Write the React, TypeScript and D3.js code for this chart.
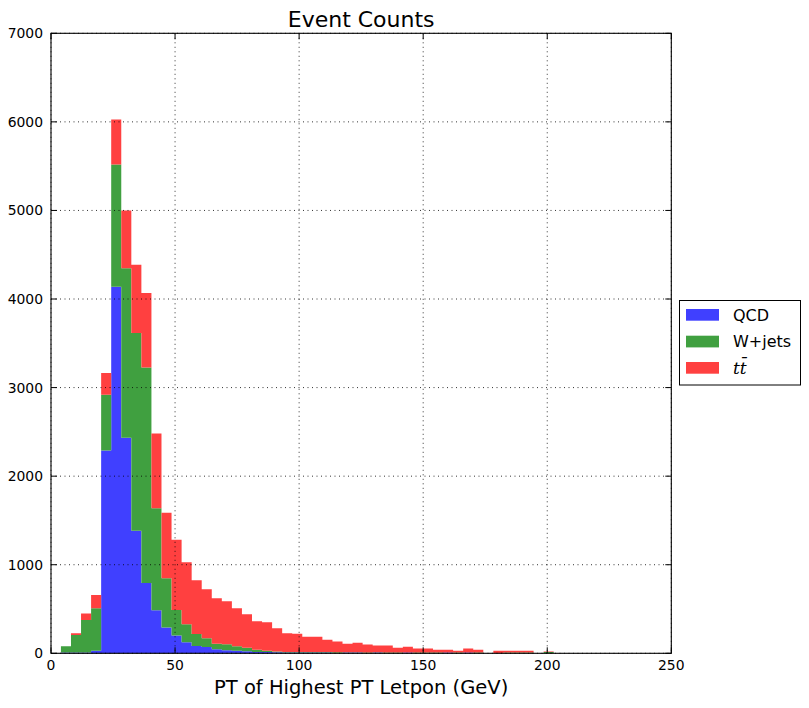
import React, { useEffect, useRef } from "react";
import * as d3 from "d3";

// histogram bins: first left edge and width (GeV)
const binStart = 4.0;
const binWidth = 4.053;

// counts per bin, stacked bottom to top
const qcd = [
  8, 8, 8, 30, 2289, 4138, 2434, 1385, 795, 485, 290, 200, 124, 83, 72, 45, 34,
  30, 23, 15, 15, 11, 8, 8, 8, 8, 8, 0, 8, 8, 0, 8, 0, 0, 8, 0, 0, 0, 8, 0, 8,
  0, 0, 0, 0, 0, 0, 0, 0,
];
const wjets = [
  72, 198, 367, 479, 630, 1381, 1914, 2232, 2431, 1152, 557, 290, 203, 135, 97,
  64, 68, 49, 41, 26, 15, 8, 7, 7, 7, 7, 7, 12, 4, 4, 8, 4, 8, 8, 0, 8, 8, 8, 0,
  8, 0, 8, 0, 0, 8, 8, 8, 0, 15,
];
const ttbar = [
  0, 19, 75, 149, 246, 508, 650, 771, 843, 844, 741, 792, 700, 606, 554, 512,
  485, 429, 376, 320, 320, 263, 211, 207, 173, 173, 139, 120, 97, 108, 90, 75,
  79, 56, 67, 45, 45, 33, 33, 22, 45, 33, 0, 30, 22, 22, 22, 0, 4,
];

const seriesKeys = ["qcd", "wjets", "ttbar"];
const seriesColors = ["#4040ff", "#40a040", "#ff4040"];
const legendLabels = ["QCD", "W+jets"];

const xTicks = [0, 50, 100, 150, 200, 250];
const yTicks = [0, 1000, 2000, 3000, 4000, 5000, 6000, 7000];

const font = "DejaVu Sans, sans-serif";

const drawChart = (el: SVGSVGElement) => {
  const svg = d3.select(el);
  svg.selectAll("*").remove();

  const left = 51;
  const right = 671.3;
  const top = 33.3;
  const bottom = 653.3;

  const x = d3.scaleLinear().domain([0, 250]).range([left, right]);
  const y = d3.scaleLinear().domain([0, 7000]).range([bottom, top]);

  // one row per bin left edge, plus a closing row at the last right edge
  const rows = qcd.map((q, i) => ({
    edge: binStart + i * binWidth,
    qcd: q,
    wjets: wjets[i],
    ttbar: ttbar[i],
  }));
  rows.push({ ...rows[rows.length - 1], edge: binStart + qcd.length * binWidth });

  const stacked = d3.stack().keys(seriesKeys)(rows as any);

  const area = d3
    .area<any>()
    .x((d) => x(d.data.edge))
    .y0((d) => y(d[0]))
    .y1((d) => y(d[1]))
    .curve(d3.curveStepAfter);

  svg
    .append("g")
    .selectAll("path")
    .data(stacked)
    .join("path")
    .attr("fill", (_, i) => seriesColors[i])
    .attr("d", area);

  // dotted grid on top of the bars
  const grid = svg
    .append("g")
    .attr("stroke", "#000")
    .attr("stroke-width", 0.8)
    .attr("stroke-dasharray", "1,3.5");
  grid
    .selectAll("line.gx")
    .data(xTicks)
    .join("line")
    .attr("x1", (d) => x(d))
    .attr("x2", (d) => x(d))
    .attr("y1", top)
    .attr("y2", bottom);
  grid
    .selectAll("line.gy")
    .data(yTicks)
    .join("line")
    .attr("class", "gy")
    .attr("x1", left)
    .attr("x2", right)
    .attr("y1", (d) => y(d))
    .attr("y2", (d) => y(d));

  // inward ticks on all four sides
  const tickLen = 6;
  const ticks = svg.append("g").attr("stroke", "#000").attr("stroke-width", 1);
  xTicks.forEach((t) => {
    ticks.append("line").attr("x1", x(t)).attr("x2", x(t)).attr("y1", bottom).attr("y2", bottom - tickLen);
    ticks.append("line").attr("x1", x(t)).attr("x2", x(t)).attr("y1", top).attr("y2", top + tickLen);
  });
  yTicks.forEach((t) => {
    ticks.append("line").attr("x1", left).attr("x2", left + tickLen).attr("y1", y(t)).attr("y2", y(t));
    ticks.append("line").attr("x1", right).attr("x2", right - tickLen).attr("y1", y(t)).attr("y2", y(t));
  });

  svg
    .append("rect")
    .attr("x", left)
    .attr("y", top)
    .attr("width", right - left)
    .attr("height", bottom - top)
    .attr("fill", "none")
    .attr("stroke", "#000")
    .attr("stroke-width", 1.1);

  // tick labels
  svg
    .append("g")
    .style("font-family", font)
    .style("font-size", "13.9px")
    .attr("text-anchor", "middle")
    .selectAll("text")
    .data(xTicks)
    .join("text")
    .attr("x", (d) => x(d))
    .attr("y", bottom + 17)
    .text((d) => d);
  svg
    .append("g")
    .style("font-family", font)
    .style("font-size", "13.9px")
    .attr("text-anchor", "end")
    .selectAll("text")
    .data(yTicks)
    .join("text")
    .attr("x", left - 8)
    .attr("y", (d) => y(d) + 5)
    .text((d) => d);

  // title and axis label
  svg
    .append("text")
    .attr("x", (left + right) / 2)
    .attr("y", 26.5)
    .attr("text-anchor", "middle")
    .style("font-family", font)
    .style("font-size", "22px")
    .text("Event Counts");
  svg
    .append("text")
    .attr("x", (left + right) / 2)
    .attr("y", 694)
    .attr("text-anchor", "middle")
    .style("font-family", font)
    .style("font-size", "19.5px")
    .text("PT of Highest PT Letpon (GeV)");

  // legend
  const legend = svg.append("g");
  legend
    .append("rect")
    .attr("x", 679.5)
    .attr("y", 300.5)
    .attr("width", 121)
    .attr("height", 84.5)
    .attr("fill", "#fff")
    .attr("stroke", "#000")
    .attr("stroke-width", 1);
  const rowY = [309, 335.7, 362];
  seriesColors.forEach((c, i) => {
    legend
      .append("rect")
      .attr("x", 686)
      .attr("y", rowY[i])
      .attr("width", 33)
      .attr("height", 11.7)
      .attr("fill", c);
  });
  legendLabels.forEach((l, i) => {
    legend
      .append("text")
      .attr("x", 733)
      .attr("y", rowY[i] + 11.7)
      .style("font-family", font)
      .style("font-size", "16px")
      .text(l);
  });
  const tt = legend
    .append("text")
    .attr("x", 733)
    .attr("y", rowY[2] + 11.7)
    .style("font-family", "DejaVu Serif, serif")
    .style("font-style", "italic")
    .style("font-size", "17px");
  tt.append("tspan").text("t");
  tt.append("tspan").text("t\u0304");
};

export default function App() {
  const ref = useRef<SVGSVGElement>(null);
  useEffect(() => {
    if (ref.current) drawChart(ref.current);
  }, []);
  return (
    <svg
      ref={ref}
      width={809}
      height={708}
      style={{ position: "absolute", left: 0, top: 0, background: "#fff" }}
    />
  );
}
